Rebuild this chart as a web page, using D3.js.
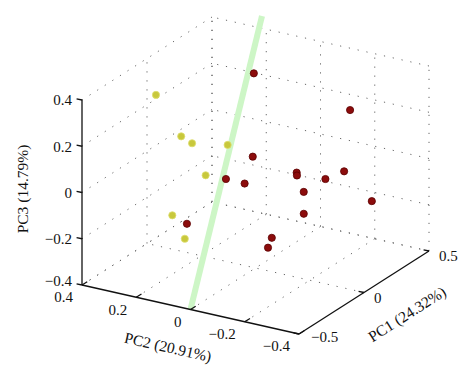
<!DOCTYPE html>
<html><head><meta charset="utf-8">
<script src="https://cdn.jsdelivr.net/npm/d3@7"></script>
<style>body{margin:0;background:#fff}svg{display:block}text{font-family:"Liberation Serif","DejaVu Serif",serif;fill:#111}</style>
</head><body><svg id="c" width="474" height="382"></svg>
<script>
// ---- data ----
const pc1Ticks = [-0.5, 0, 0.5];
const pc2Ticks = [-0.4, -0.2, 0, 0.2, 0.4];
const pc3Ticks = [-0.4, -0.2, 0, 0.2, 0.4];
const pc1Labels = ["\u22120.5", "0", "0.5"];
const pc2Labels = ["\u22120.4", "\u22120.2", "0", "0.2", "0.4"];
const pc3Labels = ["\u22120.4", "\u22120.2", "0", "0.2", "0.4"];
const axisTitles = ["PC1 (24.32%)", "PC2 (20.91%)", "PC3 (14.79%)"];
// group 1 (yellow): [PC1, PC2, PC3]
const groupYellow = [
  [-0.10, 0.319, 0.300], [-0.20, 0.178, 0.194], [-0.25, 0.114, 0.199],
  [-0.35, -0.065, 0.275], [-0.30, 0.040, 0.098], [-0.40, 0.115, -0.059],
  [-0.45, 0.045, -0.124]
];
// group 2 (red)
const groupRed = [
  [0.00, 0.109, -0.044], [0.10, 0.088, -0.094], [0.20, 0.102, 0.343],
  [0.40, -0.157, 0.181], [0.15, 0.082, 0.006], [0.30, -0.008, -0.093],
  [0.25, -0.033, -0.081], [0.35, -0.090, -0.117], [0.45, -0.111, -0.114],
  [0.20, -0.082, -0.121], [0.10, -0.130, -0.167], [0.30, -0.285, -0.143],
  [-0.10, -0.108, -0.205], [-0.15, -0.118, -0.227], [-0.30, 0.109, -0.130]
];
// separating line (green)
const greenLine = [[-0.5, 0, -0.4], [0.05, 0, 0.672]];

// ---- projection (orthographic, via d3 linear scales) ----
const d1 = [-0.5, 0.5], d2 = [0.4, -0.4], d3r = [-0.4, 0.4];
const s1x = d3.scaleLinear().domain(d1).range([0, 130]);
const s1y = d3.scaleLinear().domain(d1).range([0, -83]);
const s2x = d3.scaleLinear().domain(d2).range([0, 217]);
const s2y = d3.scaleLinear().domain(d2).range([0, 49]);
const s3y = d3.scaleLinear().domain(d3r).range([0, -185]);
const ox = 82, oy = 285;
function P(p) {
  return [ox + s1x(p[0]) + s2x(p[1]), oy + s1y(p[0]) + s2y(p[1]) + s3y(p[2])];
}

const svg = d3.select("#c");
const gGrid = svg.append("g").attr("stroke", "#666").attr("stroke-width", 1)
  .attr("stroke-dasharray", "1.2,7.8").attr("fill", "none");
function seg(g, a, b) {
  const A = P(a), B = P(b);
  g.append("line").attr("x1", A[0]).attr("y1", A[1]).attr("x2", B[0]).attr("y2", B[1]);
}
const x0 = d1[0], x1 = d1[1], y0 = -0.4, y1 = 0.4, z0 = -0.4, z1 = 0.4;
// back wall PC2 = 0.4
pc1Ticks.forEach(t => { if (t !== x0) seg(gGrid, [t, y1, z0], [t, y1, z1]); });
pc3Ticks.forEach(t => seg(gGrid, [x0, y1, t], [x1, y1, t]));
// back wall PC1 = 0.5
pc2Ticks.forEach(t => seg(gGrid, [x1, t, z0], [x1, t, z1]));
pc3Ticks.forEach(t => seg(gGrid, [x1, y0, t], [x1, y1, t]));
// floor
pc1Ticks.forEach(t => { if (t !== x0) seg(gGrid, [t, y0, z0], [t, y1, z0]); });
pc2Ticks.forEach(t => { if (t !== y0) seg(gGrid, [x0, t, z0], [x1, t, z0]); });

// green line
{
  const A = P(greenLine[0]), B = P(greenLine[1]);
  svg.append("line").attr("x1", A[0]).attr("y1", A[1]).attr("x2", B[0]).attr("y2", B[1])
    .attr("stroke", "#cdf6c6").attr("stroke-width", 6);
}

// axes
const gAx = svg.append("g").attr("stroke", "#111").attr("stroke-width", 1.3).attr("fill", "none");
seg(gAx, [x0, y1, z0], [x0, y1, z1]);   // PC3 axis
seg(gAx, [x0, y1, z0], [x0, y0, z0]);   // PC2 axis
seg(gAx, [x0, y0, z0], [x1, y0, z0]);   // PC1 axis
pc3Ticks.forEach(t => seg(gAx, [x0, y1, t], [x0, y1 + 0.02, t]));
pc2Ticks.forEach(t => seg(gAx, [x0, t, z0], [x0 + 0.04, t, z0]));
pc1Ticks.forEach(t => seg(gAx, [t, y0, z0], [t, y0 + 0.02, z0]));

// tick labels
const fs = 15;
pc3Ticks.forEach((t, i) => {
  const p = P([x0, y1, t]);
  svg.append("text").attr("x", p[0] - 10).attr("y", p[1] + (t === z0 ? -4 : 0))
    .attr("dy", "0.35em").attr("text-anchor", "end").attr("font-size", fs).text(pc3Labels[i]);
});
pc2Ticks.forEach((t, i) => {
  const p = P([x0, t, z0]);
  svg.append("text").attr("x", p[0] - 9).attr("y", p[1] + 12)
    .attr("dy", "0.35em").attr("text-anchor", "end").attr("font-size", fs).text(pc2Labels[i]);
});
pc1Ticks.forEach((t, i) => {
  const p = P([t, y0, z0]);
  svg.append("text").attr("x", p[0] + (i === 0 ? 12 : 10)).attr("y", p[1] + (i === 0 ? 3 : 5))
    .attr("dy", "0.35em").attr("text-anchor", "start").attr("font-size", fs).text(pc1Labels[i]);
});

// axis titles
const tfs = 15.5;
svg.append("text").attr("transform", "translate(407,314) rotate(-32.6)")
  .attr("text-anchor", "middle").attr("dy", "0.35em").attr("font-size", tfs).text(axisTitles[0]);
svg.append("text").attr("transform", "translate(168,347) rotate(12.7)")
  .attr("text-anchor", "middle").attr("dy", "0.35em").attr("font-size", tfs).text(axisTitles[1]);
svg.append("text").attr("transform", "translate(23,189) rotate(-90)")
  .attr("text-anchor", "middle").attr("dy", "0.35em").attr("font-size", tfs).text(axisTitles[2]);

// points
function drawPts(data, fill, stroke) {
  svg.append("g").selectAll("circle").data(data).join("circle")
    .attr("cx", d => P(d)[0]).attr("cy", d => P(d)[1]).attr("r", 3.6)
    .attr("fill", fill).attr("stroke", stroke).attr("stroke-width", 0.8);
}
drawPts(groupYellow, "#c8c83c", "#dede70");
drawPts(groupRed, "#8c0c0c", "#5a0000");
</script></body></html>
